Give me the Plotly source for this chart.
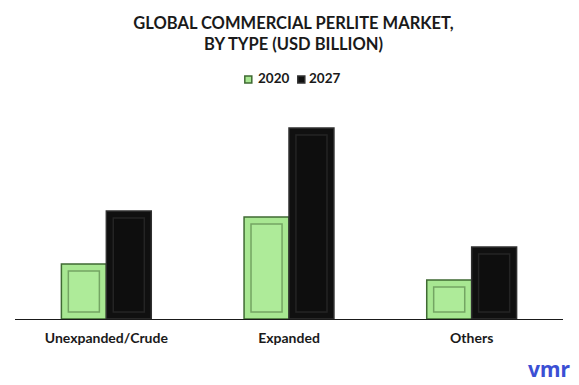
import plotly.graph_objects as go

categories = ["Unexpanded/Crude", "Expanded", "Others"]
years = ["2020", "2027"]
values_2020 = [0.55, 1.02, 0.39]
values_2027 = [1.08, 1.91, 0.72]

FONT = "Lato"
TXT = "#1a1a1a"
bar_w = 0.246
inset_x = 0.038
inset_y = 0.07

styles = {
    "2020": dict(fill="#a8e792", line="#3f6a33", inner_fill="#aeeb99", inner_line="#74a563", offset=-bar_w),
    "2027": dict(fill="#101010", line="#303030", inner_fill="#0e0e0e", inner_line="#242424", offset=0.0),
}

fig = go.Figure()
for year, vals in zip(years, [values_2020, values_2027]):
    s = styles[year]
    fig.add_trace(go.Bar(
        name=year, x=categories, y=vals,
        width=bar_w, offset=s["offset"],
        marker=dict(color=s["fill"], line=dict(color=s["line"], width=1.5)),
        showlegend=False, legendgroup=year,
    ))
    fig.add_trace(go.Bar(
        name=year + " inner", x=categories, y=[v - 2 * inset_y for v in vals],
        base=[inset_y] * len(vals),
        width=bar_w - 2 * inset_x, offset=s["offset"] + inset_x,
        marker=dict(color=s["inner_fill"], line=dict(color=s["inner_line"], width=1.5)),
        showlegend=False, hoverinfo="skip", legendgroup=year,
    ))
    # legend swatch (label drawn as annotation next to it)
    fig.add_trace(go.Scatter(
        name=" ", x=[None], y=[None], mode="markers",
        marker=dict(symbol="square", size=7, color=s["fill"], line=dict(color=s["line"], width=1.5)),
        showlegend=True, legendgroup=year,
    ))

def px_x(page_x):
    return (page_x - 8 - 7) / 548.5

def px_y(page_y):
    return (311 - (page_y - 8)) / 200

annotations = [
    dict(text="<b>%s</b>" % yr, xref="paper", yref="paper", showarrow=False,
         x=px_x(tx), y=px_y(78), xanchor="left", yanchor="middle",
         font=dict(family=FONT, size=13.5, color=TXT))
    for yr, tx in zip(years, [256, 307])
]
annotations.append(dict(
    text="<b>vmr</b>", xref="paper", yref="paper", showarrow=False,
    x=px_x(549), y=px_y(369), xanchor="center", yanchor="middle",
    font=dict(family="Noto Sans", size=21, color="#3b4fd4"),
))

fig.update_layout(
    width=571, height=377,
    margin=dict(l=7, r=15.5, t=111, b=66),
    paper_bgcolor="white", plot_bgcolor="white",
    barmode="overlay",
    font=dict(family=FONT, color=TXT),
    title=dict(
        text="<b>GLOBAL COMMERCIAL PERLITE MARKET,<br>BY TYPE (USD BILLION)</b>",
        x=0.5, xanchor="center", y=1 - 21 / 377, yanchor="middle", yref="container",
        font=dict(family=FONT, size=16.5, color=TXT),
    ),
    legend=dict(
        orientation="h", x=px_x(248.5 - 20), xanchor="left", y=px_y(80), yanchor="middle",
        font=dict(family=FONT, size=14, color=TXT),
        itemwidth=30, traceorder="normal",
        entrywidth=8, entrywidthmode="pixels",
        itemclick=False, itemdoubleclick=False,
    ),
    xaxis=dict(
        showline=True, linecolor=TXT, linewidth=1,
        ticks="", tickfont=dict(family=FONT, size=14, color=TXT, weight="bold"),
        ticklabelstandoff=6,
        showgrid=False,
    ),
    yaxis=dict(range=[0, 2.0], showticklabels=False, showgrid=False, zeroline=False, showline=False),
    annotations=annotations,
)

fig.write_html("out.html")
